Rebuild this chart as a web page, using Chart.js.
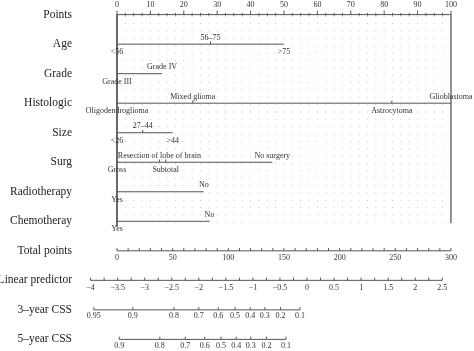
<!DOCTYPE html>
<html>
<head>
<meta charset="utf-8">
<script src="https://cdn.jsdelivr.net/npm/chart.js@4.4.0/dist/chart.umd.min.js"></script>
<style>
  html, body { margin: 0; padding: 0; background: #fff; }
  #wrap { width: 474px; height: 351px; }
</style>
</head>
<body>
<div id="wrap"><canvas id="nomo"></canvas></div>
<script>
// rows of the nomogram, top to bottom
const rowNames = ['Points', 'Age', 'Grade', 'Histologic', 'Size', 'Surg', 'Radiotherapy', 'Chemotheray',
                  'Total points', 'Linear predictor', '3–year CSS', '5–year CSS'];

const ageLevels = ['<56', '56–75', '>75'];
const agePoints = [0, 28, 50];
const gradeLevels = ['Grade III', 'Grade IV'];
const gradePoints = [0, 13.5];
const histLevels = ['Oligodendroglioma', 'Mixed glioma', 'Astrocytoma', 'Glioblastoma'];
const histPoints = [0, 22.7, 82.3, 100];
const sizeLevels = ['<26', '27–44', '>44'];
const sizePoints = [0, 7.7, 16.7];
const surgLevels = ['Gross', 'Resection of lobe of brain', 'Subtotal', 'No surgery'];
const surgPoints = [0, 12.7, 14.6, 46.5];
const radioLevels = ['Yes', 'No'];
const radioPoints = [0, 26];
const chemoLevels = ['Yes', 'No'];
const chemoPoints = [0, 27.7];

// scale tick labels
const pointsLabels = [0, 10, 20, 30, 40, 50, 60, 70, 80, 90, 100];
const totalLabels = [0, 50, 100, 150, 200, 250, 300];
const lpLabels = [-4, -3.5, -3, -2.5, -2, -1.5, -1, -0.5, 0, 0.5, 1, 1.5, 2, 2.5];
const css3Labels = ['0.95', '0.9', '0.8', '0.7', '0.6', '0.5', '0.4', '0.3', '0.2', '0.1'];
const css3Lp = [-3.94, -3.22, -2.46, -2.0, -1.64, -1.33, -1.05, -0.78, -0.49, -0.13];
const css5Labels = ['0.9', '0.8', '0.7', '0.6', '0.5', '0.4', '0.3', '0.2', '0.1'];
const css5Lp = [-3.47, -2.72, -2.25, -1.89, -1.59, -1.31, -1.04, -0.75, -0.39];

// minor tick steps
const pointsMinor = 2.5;
const totalMinor = 10;
const lpMinor = 0.25;

// everything is drawn on the "points" x scale
const totalToPts = t => t / 3;
const lpToPts = lp => 56.9 + 16.2 * lp;

const factorRows = [
  { row: 1, levels: ageLevels, pts: agePoints },
  { row: 2, levels: gradeLevels, pts: gradePoints },
  { row: 3, levels: histLevels, pts: histPoints },
  { row: 4, levels: sizeLevels, pts: sizePoints },
  { row: 5, levels: surgLevels, pts: surgPoints },
  { row: 6, levels: radioLevels, pts: radioPoints },
  { row: 7, levels: chemoLevels, pts: chemoPoints }
];

// axis lines, one segment per row, broken with null
const axisLines = [];
function segment(a, b, row) {
  axisLines.push({ x: a, y: row }, { x: b, y: row }, { x: b, y: null });
}
segment(0, 100, 0);
factorRows.forEach(f => segment(0, Math.max(...f.pts), f.row));
segment(0, totalToPts(300), 8);
segment(lpToPts(-4), lpToPts(2.5), 9);
segment(lpToPts(css3Lp[0]), lpToPts(css3Lp[css3Lp.length - 1]), 10);
segment(lpToPts(css5Lp[0]), lpToPts(css5Lp[css5Lp.length - 1]), 11);

// tick marks
const minorTicks = [];
const majorTicks = [];
for (let v = 0; v <= 100; v += pointsMinor) {
  if (v % 10 === 0) majorTicks.push({ x: v, y: -0.06 });
  else minorTicks.push({ x: v, y: -0.01 });
}
for (let t = 0; t <= 300; t += totalMinor) minorTicks.push({ x: totalToPts(t), y: 8 - 0.045 });
for (let k = 0; k <= 26; k++) minorTicks.push({ x: lpToPts(-4 + k * lpMinor), y: 9 - 0.045 });
css3Lp.forEach(v => minorTicks.push({ x: lpToPts(v), y: 10 - 0.045 }));
css5Lp.forEach(v => minorTicks.push({ x: lpToPts(v), y: 11 - 0.045 }));
factorRows.forEach(f => f.pts.forEach((p, i) => {
  if (i > 0 && i < f.pts.length - 1) minorTicks.push({ x: p, y: f.row - 0.045 });
}));

// dotted background grid
const gridDots = [];
for (let v = pointsMinor; v < 100; v += pointsMinor) {
  gridDots.push({ x: v, y: 0.04 }, { x: v, y: 7.05 }, { x: v, y: null });
}

const labelPlugin = {
  id: 'nomoLabels',
  afterDatasetsDraw(chart) {
    const { ctx, scales: { x, y } } = chart;
    ctx.save();
    ctx.font = '8px "Liberation Serif", serif';
    ctx.fillStyle = '#333';
    ctx.textAlign = 'center';
    ctx.textBaseline = 'middle';
    const put = (txt, v, row, dy) => ctx.fillText(txt, x.getPixelForValue(v), y.getPixelForValue(row) + dy);

    pointsLabels.forEach(v => put(String(v), v, 0, -10));
    factorRows.forEach(f => f.levels.forEach((lev, i) => {
      put(lev, f.pts[i], f.row, i % 2 === 0 ? 8 : -6.5);
    }));
    totalLabels.forEach(t => put(String(t), totalToPts(t), 8, 7.5));
    lpLabels.forEach(v => put(String(v).replace('-', '−'), lpToPts(v), 9, 7.5));
    css3Labels.forEach((s, i) => put(s, lpToPts(css3Lp[i]), 10, 6.5));
    css5Labels.forEach((s, i) => put(s, lpToPts(css5Lp[i]), 11, 7));
    ctx.restore();
  }
};

new Chart(document.getElementById('nomo'), {
  type: 'line',
  data: {
    datasets: [
      {
        label: 'grid',
        data: gridDots,
        borderColor: '#c4c4c4',
        borderWidth: 1,
        borderDash: [1, 6.36],
        pointRadius: 0,
        spanGaps: false
      },
      {
        label: 'axes',
        data: axisLines,
        borderColor: '#555',
        borderWidth: 1,
        pointRadius: 0,
        spanGaps: false
      },
      {
        label: 'left',
        data: [{ x: 0, y: 0 }, { x: 0, y: 7.18 }],
        borderColor: '#555',
        borderWidth: 1,
        pointRadius: 0
      },
      {
        label: 'right',
        data: [{ x: 100, y: 0 }, { x: 100, y: 7.07 }],
        borderColor: '#777',
        borderWidth: 1.6,
        pointRadius: 0
      },
      {
        label: 'minor ticks',
        type: 'scatter',
        data: minorTicks,
        pointStyle: 'line',
        rotation: 90,
        radius: 1.4,
        borderColor: '#555',
        borderWidth: 1
      },
      {
        label: 'major ticks',
        type: 'scatter',
        data: majorTicks,
        pointStyle: 'line',
        rotation: 90,
        radius: 2.2,
        borderColor: '#555',
        borderWidth: 1
      }
    ]
  },
  options: {
    responsive: true,
    maintainAspectRatio: false,
    animation: false,
    layout: { padding: { left: 0, right: 6, top: 0, bottom: 0 } },
    plugins: { legend: { display: false }, tooltip: { enabled: false } },
    scales: {
      x: {
        type: 'linear',
        display: false,
        min: -9.88,
        max: 105.1
      },
      y: {
        type: 'linear',
        reverse: true,
        min: -0.326,
        max: 11.224,
        grid: { display: false, drawTicks: false },
        border: { display: false },
        afterBuildTicks: scale => { scale.ticks = rowNames.map((n, i) => ({ value: i })); },
        afterFit: scale => {
          scale.width = 84;
          scale.paddingTop = 0;
          scale.paddingBottom = 0;
        },
        ticks: {
          autoSkip: false,
          padding: 12,
          color: '#222',
          font: { family: '"Liberation Serif", serif', size: 11.5 },
          callback: v => rowNames[v]
        }
      }
    }
  },
  plugins: [labelPlugin]
});
</script>
</body>
</html>
